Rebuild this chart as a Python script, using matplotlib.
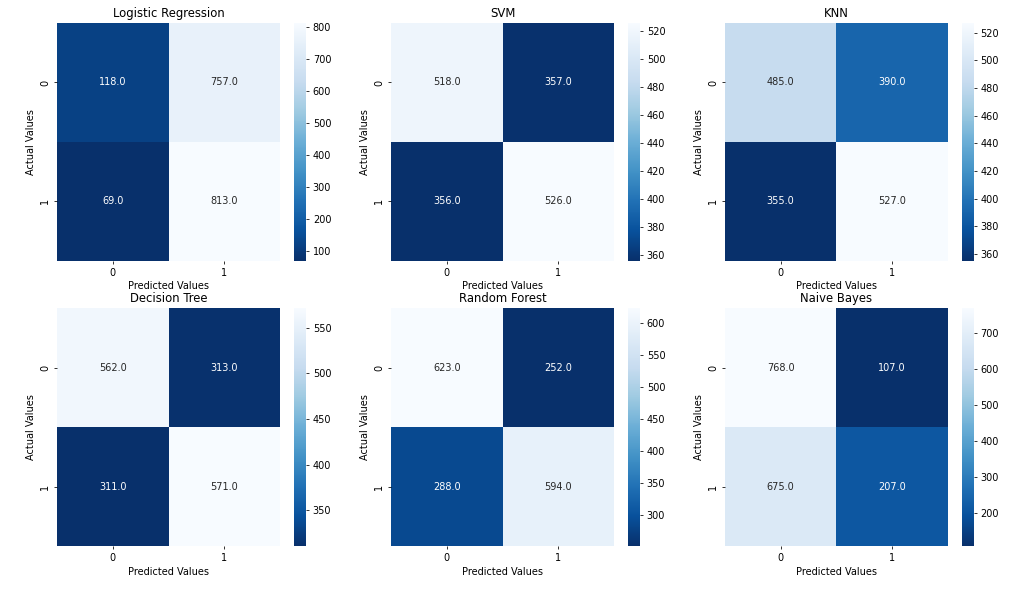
import matplotlib
matplotlib.use('Agg')
import matplotlib.pyplot as plt
import numpy as np
import seaborn as sns

# confusion matrices, rows = actual, cols = predicted
model_names = ['Logistic Regression', 'SVM', 'KNN',
               'Decision Tree', 'Random Forest', 'Naive Bayes']
cm_logreg = [[118, 757], [69, 813]]
cm_svm = [[518, 357], [356, 526]]
cm_knn = [[485, 390], [355, 527]]
cm_tree = [[562, 313], [311, 571]]
cm_forest = [[623, 252], [288, 594]]
cm_bayes = [[768, 107], [675, 207]]
matrices = [cm_logreg, cm_svm, cm_knn, cm_tree, cm_forest, cm_bayes]

fig, axes = plt.subplots(2, 3, figsize=(1016 / 70, 591 / 70), dpi=70)
fig.subplots_adjust(left=0.0561, right=0.988, top=0.961, bottom=0.0761,
                    wspace=0.197, hspace=0.2)

for ax, name, cm in zip(axes.flat, model_names, matrices):
    sns.heatmap(np.array(cm, dtype=float), annot=True, fmt='.1f',
                cmap='Blues_r', ax=ax)
    ax.set_title(name)
    ax.set_xlabel('Predicted Values')
    ax.set_ylabel('Actual Values')

fig.savefig('out.png', dpi=70)
